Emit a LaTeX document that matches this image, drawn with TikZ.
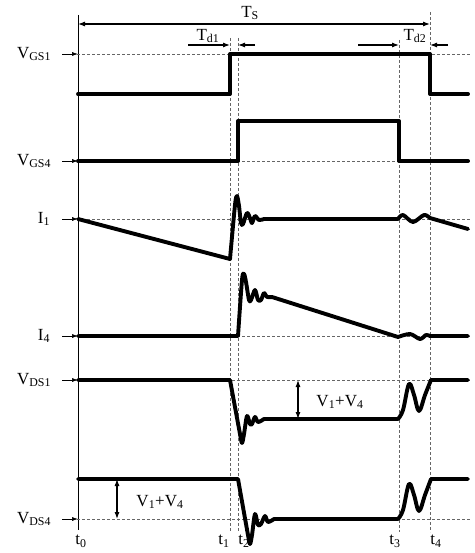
\documentclass[tikz,border=0pt]{standalone}
\usepackage{fontspec}
\setmainfont{Liberation Serif}
\usetikzlibrary{arrows.meta}

\begin{document}
\begin{tikzpicture}[x=1pt,y=-1pt, wave/.style={line width=3.9pt, line join=round, line cap=round}, guide/.style={dash pattern=on 3pt off 2pt, black!60, line width=0.6pt}, lbl arrow/.style={-{Latex[length=6pt,width=4pt]}, line width=0.6pt}, dim arrow/.style={{Latex[length=7pt,width=5pt]}-{Latex[length=7pt,width=5pt]}, line width=1.1pt}, td arrow/.style={-{Latex[length=7pt,width=5pt]}, line width=1.1pt}, sig/.style={font=\fontsize{17}{19}\selectfont, inner sep=0pt}]

\useasboundingbox (0,0) rectangle (474,553);

% time markers
\coordinate (t0a) at (78,15);
\coordinate (t0b) at (78,530);
\coordinate (t1a) at (230,38);
\coordinate (t1b) at (230,532);
\coordinate (t2a) at (238,38);
\coordinate (t2b) at (238,532);
\coordinate (t3a) at (399,40);
\coordinate (t3b) at (399,532);
\coordinate (t4a) at (430,12);
\coordinate (t4b) at (430,532);

\draw[line width=0.6pt] (t0a) -- (t0b);
\draw[guide] (t1a) -- (t1b);
\draw[guide] (t2a) -- (t2b);
\draw[guide] (t3a) -- (t3b);
\draw[guide] (t4a) -- (t4b);

\node[sig] (lt0) at (81,541) {t\textsubscript{0}};
\node[sig] (lt1) at (224,541) {t\textsubscript{1}};
\node[sig] (lt2) at (244,541) {t\textsubscript{2}};
\node[sig] (lt3) at (395,541) {t\textsubscript{3}};
\node[sig] (lt4) at (436,541) {t\textsubscript{4}};

% period and dead times
\coordinate (tsl) at (78,24);
\coordinate (tsr) at (430,24);
\draw[dim arrow] (tsl) -- (tsr);
\node[sig] (lts) at (250,13) {T\textsubscript{S}};

\coordinate (td1l) at (188,45);
\coordinate (td1r) at (255,45);
\coordinate (td1a) at (230,45);
\coordinate (td1b) at (238,45);
\draw[td arrow] (td1l) -- (td1a);
\draw[td arrow] (td1r) -- (td1b);
\node[sig] (ltd1) at (208,36) {T\textsubscript{d1}};

\coordinate (td2l) at (358,45);
\coordinate (td2r) at (448,45);
\coordinate (td2a) at (399,45);
\coordinate (td2b) at (430,45);
\draw[td arrow] (td2l) -- (td2a);
\draw[td arrow] (td2r) -- (td2b);
\node[sig] (ltd2) at (415,36) {T\textsubscript{d2}};

% signal labels
\node[sig] (lvgs1) at (34,54) {V\textsubscript{GS1}};
\node[sig] (lvgs4) at (34,161) {V\textsubscript{GS4}};
\node[sig] (li1) at (44,219) {I\textsubscript{1}};
\node[sig] (li4) at (44,336) {I\textsubscript{4}};
\node[sig] (lvds1) at (34,380) {V\textsubscript{DS1}};
\node[sig] (lvds4) at (34,519) {V\textsubscript{DS4}};

\foreach \n/\y in {vgs1/54, vgs4/161, i1/219, i4/336, vds1/380, vds4/519} {
  \coordinate (\n s) at (62,\y);
  \coordinate (\n m) at (78,\y);
  \coordinate (\n e) at (470,\y);
  \draw[guide] (\n s) -- (\n e);
  \draw[lbl arrow] (\n s) -- (\n m);
}

% waveforms
\draw[wave] (78,94) -- (230,94) -- (230,54) -- (430,54) -- (430,94) -- (468,94);
\draw[wave] (78,161) -- (238,161) -- (238,121) -- (399,121) -- (399,161) -- (468,161);

\draw[wave] (78,219) -- (230,259) -- plot[smooth, tension=0.5] coordinates {(230,259) (235,205) (237,196) (239,206) (241,223) (243,224) (247,213) (250,218) (252,223) (255,216) (259,220) (264,219)} -- (398,219) -- plot[smooth] coordinates {(398,219) (403,215) (413,222) (424,215) (430,218)} -- (468,229);

\draw[wave] (78,336) -- (238,336) -- plot[smooth, tension=0.5] coordinates {(238,336) (242,280) (244,274) (246,282) (249,300) (251,300) (255,290) (258,300) (261,300) (264,293) (267,297) (272,297)} -- (398,337) -- plot[smooth] coordinates {(398,337) (410,334) (420,339) (426,335) (430,336)} -- (468,336);

\draw[wave] (78,380) -- (230,380) -- plot[smooth, tension=0.5] coordinates {(230,380) (240,434) (242,443) (244,434) (247,416) (250,424) (252,424) (255,417) (258,422) (264,419)} -- (398,419) -- plot[smooth, tension=0.6] coordinates {(398,419) (403,410) (409,384) (414,395) (419,411) (425,395) (431,380)} -- (468,380);

\draw[wave] (78,479) -- (238,479) -- plot[smooth, tension=0.5] coordinates {(238,479) (248,535) (250,544) (252,535) (255,514) (258,525) (261,524) (265,516) (268,522) (274,519)} -- (398,519) -- plot[smooth, tension=0.6] coordinates {(398,519) (403,510) (409,484) (414,495) (419,511) (425,495) (431,479)} -- (468,479);

% amplitude marks
\coordinate (d1a) at (298,380);
\coordinate (d1b) at (298,419);
\draw[dim arrow] (d1a) -- (d1b);
\node[sig] (ld1) at (340,402) {V\textsubscript{1}+V\textsubscript{4}};

\coordinate (d4a) at (117,479);
\coordinate (d4b) at (117,519);
\draw[dim arrow] (d4a) -- (d4b);
\node[sig] (ld4) at (160,502) {V\textsubscript{1}+V\textsubscript{4}};
\end{tikzpicture}
\end{document}
